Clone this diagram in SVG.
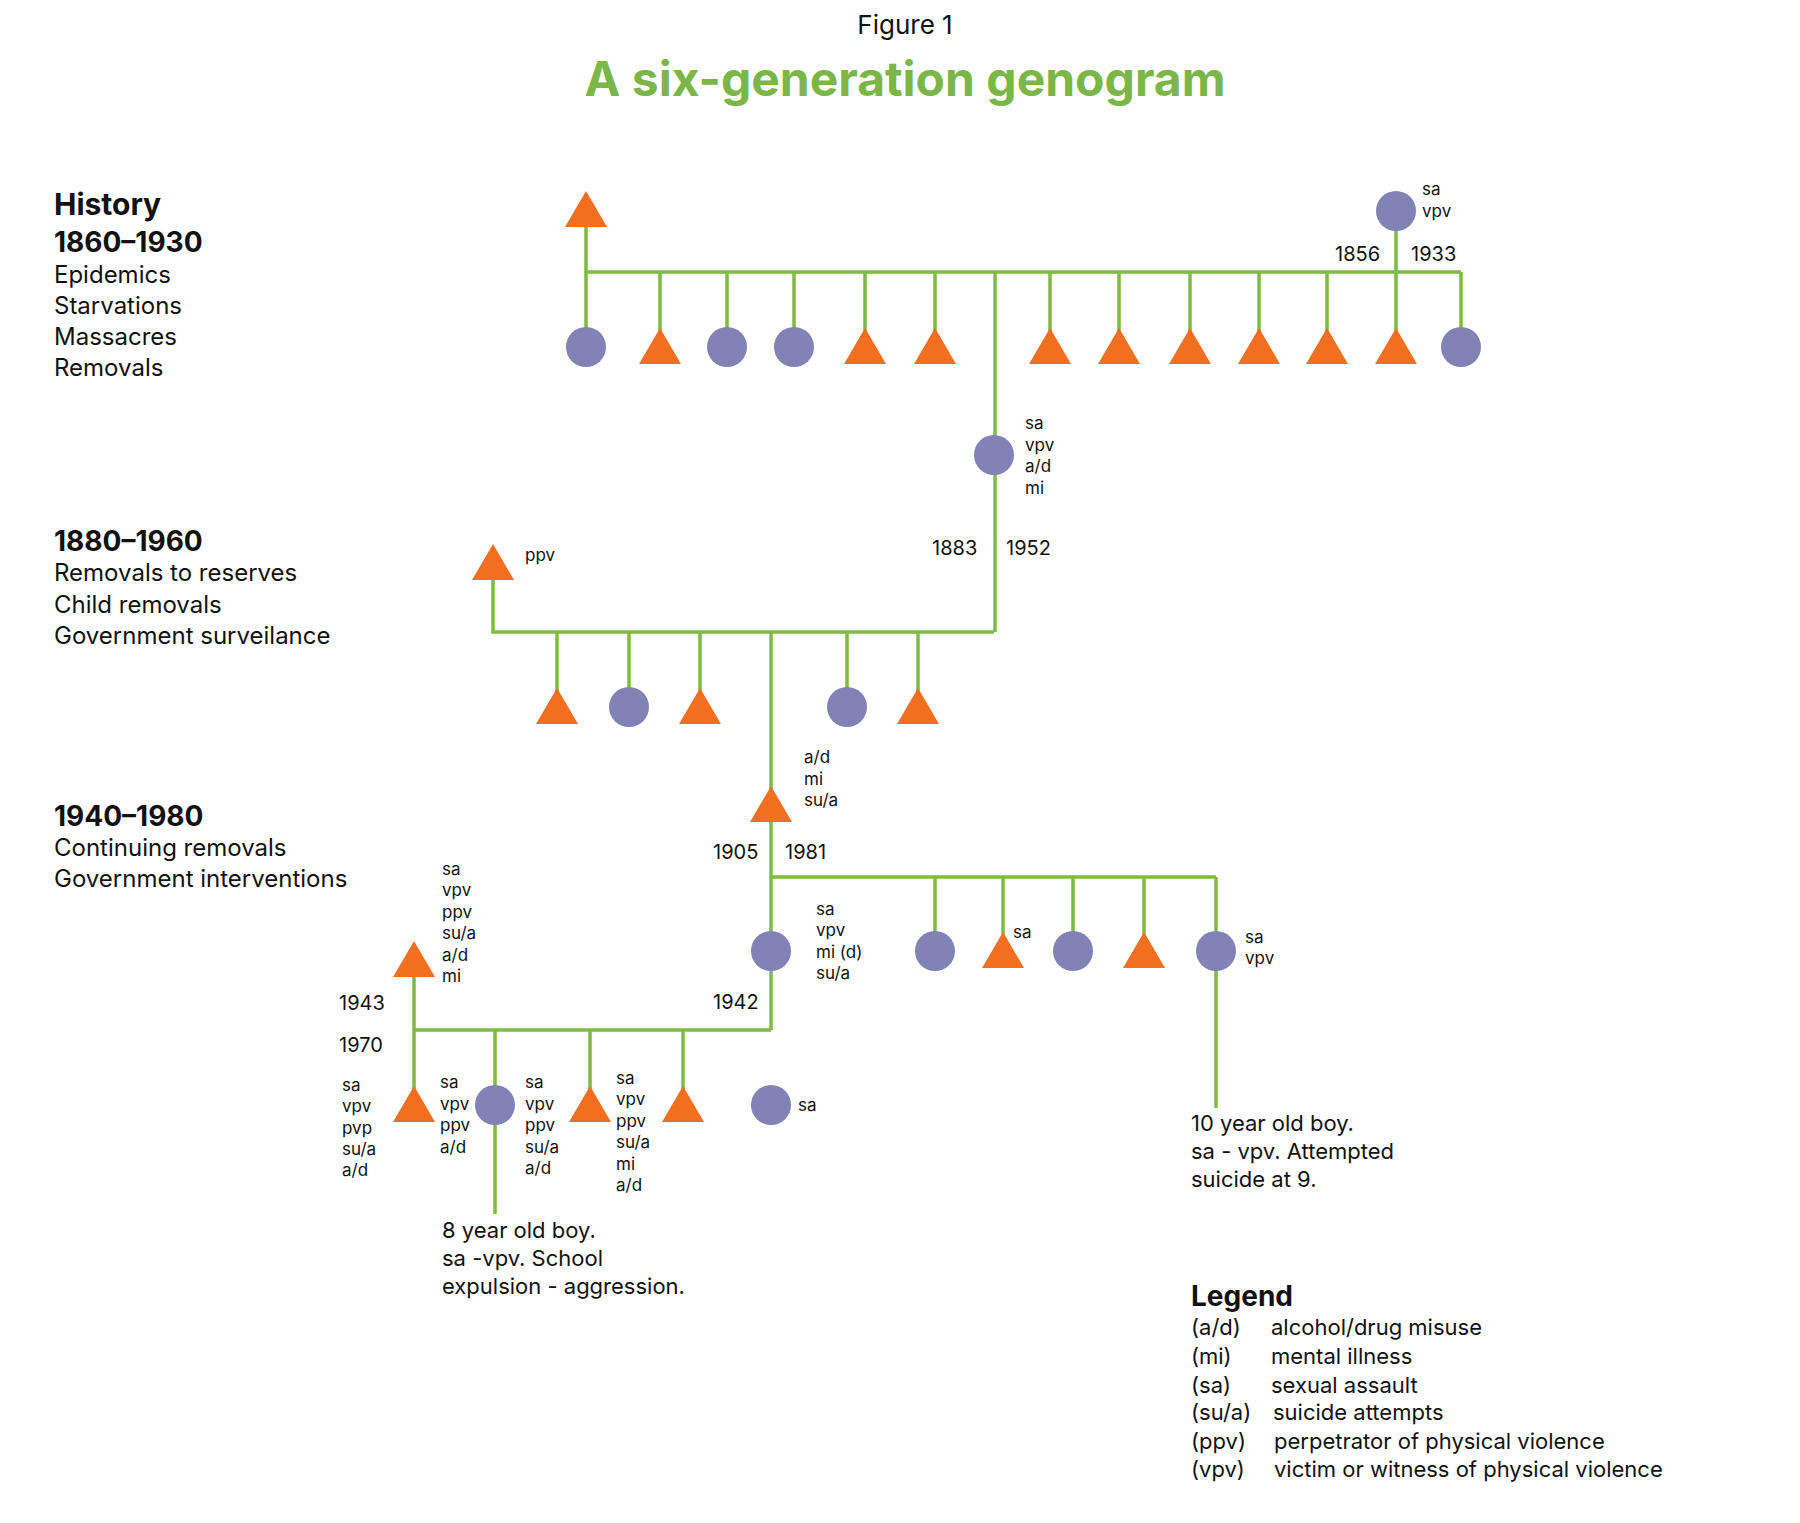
<svg xmlns="http://www.w3.org/2000/svg" width="1800" height="1523" viewBox="0 0 1800 1523">
<defs>
<style>
text{font-family:"Inter","Liberation Sans",sans-serif;fill:#111}
.t{font-size:17px}
.y{font-size:20px}
.h{font-size:24px}
.hb{font-size:30px;font-weight:bold}
.ln{stroke:#7dbb42;stroke-width:3.5;fill:none}
.c{fill:#8182b5}
.tr{fill:#f26f21}
</style>
<circle id="C" class="c" r="20"/>
<polygon id="T" class="tr" points="0,-19 21,17 -21,17"/>
</defs>
<rect width="1800" height="1523" fill="#fff"/>
<text x="905" y="34" text-anchor="middle" style="font-size:26px">Figure 1</text>
<text x="905" y="96" text-anchor="middle" style="font-size:48px;font-weight:bold;fill:#7ab648">A six-generation genogram</text>

<g id="history">
<text x="54" y="215" class="hb">History</text>
<text x="54" y="252" class="hb" style="font-size:28px">1860–1930</text>
<text x="54" y="283" class="h">Epidemics</text>
<text x="54" y="314" class="h">Starvations</text>
<text x="54" y="345" class="h">Massacres</text>
<text x="54" y="376" class="h">Removals</text>
<text x="54" y="551" class="hb" style="font-size:28px">1880–1960</text>
<text x="54" y="581" class="h">Removals to reserves</text>
<text x="54" y="613" class="h">Child removals</text>
<text x="54" y="644" class="h">Government surveilance</text>
<text x="54" y="826" class="hb" style="font-size:28px">1940–1980</text>
<text x="54" y="856" class="h">Continuing removals</text>
<text x="54" y="887" class="h">Government interventions</text>
</g>

<g id="connectors" class="ln">
<path d="M586,215V347M586,272H1461M660,272V347M727,272V347M794,272V347M865,272V347M935,272V347M995,272V632M1050,272V347M1119,272V347M1190,272V347M1259,272V347M1327,272V347M1396,211V347M1461,272V347"/>
<path d="M493,563V632H994M557,632V707M629,632V707M700,632V707M771,632V1030M847,632V707M918,632V707"/>
<path d="M771,877H1216M935,877V951M1003,877V951M1073,877V951M1144,877V951M1216,877V1108"/>
<path d="M414,960V1105M414,1030H771M495,1030V1214M590,1030V1105M683,1030V1105"/>
</g>

<g id="gen1">
<use href="#T" x="586" y="210"/>
<use href="#C" x="1396" y="211"/>
<use href="#C" x="586" y="347"/><use href="#T" x="660" y="347"/><use href="#C" x="727" y="347"/><use href="#C" x="794" y="347"/>
<use href="#T" x="865" y="347"/><use href="#T" x="935" y="347"/><use href="#T" x="1050" y="347"/><use href="#T" x="1119" y="347"/>
<use href="#T" x="1190" y="347"/><use href="#T" x="1259" y="347"/><use href="#T" x="1327" y="347"/><use href="#T" x="1396" y="347"/>
<use href="#C" x="1461" y="347"/>
<text x="1422" y="195" class="t">sa</text><text x="1422" y="217" class="t">vpv</text>
<text x="1335" y="261" class="y">1856</text><text x="1411" y="261" class="y">1933</text>
</g>

<g id="gen2">
<use href="#C" x="994" y="455"/>
<text x="1025" y="429" class="t">sa</text><text x="1025" y="451" class="t">vpv</text><text x="1025" y="472" class="t">a/d</text><text x="1025" y="494" class="t">mi</text>
<text x="932" y="555" class="y">1883</text><text x="1006" y="555" class="y">1952</text>
<use href="#T" x="493" y="563"/><text x="525" y="561" class="t">ppv</text>
<use href="#T" x="557" y="707"/><use href="#C" x="629" y="707"/><use href="#T" x="700" y="707"/><use href="#C" x="847" y="707"/><use href="#T" x="918" y="707"/>
</g>

<g id="gen3">
<use href="#T" x="771" y="805"/>
<text x="804" y="763" class="t">a/d</text><text x="804" y="785" class="t">mi</text><text x="804" y="806" class="t">su/a</text>
<text x="713" y="859" class="y">1905</text><text x="785" y="859" class="y">1981</text>
<use href="#C" x="771" y="951"/><use href="#C" x="935" y="951"/><use href="#T" x="1003" y="951"/><use href="#C" x="1073" y="951"/><use href="#T" x="1144" y="951"/><use href="#C" x="1216" y="951"/>
<text x="816" y="915" class="t">sa</text><text x="816" y="936" class="t">vpv</text><text x="816" y="958" class="t">mi (d)</text><text x="816" y="979" class="t">su/a</text>
<text x="1013" y="938" class="t">sa</text>
<text x="1245" y="943" class="t">sa</text><text x="1245" y="964" class="t">vpv</text>
<text x="1191" y="1131" class="h" style="font-size:22px">10 year old boy.</text>
<text x="1191" y="1159" class="h" style="font-size:22px">sa - vpv. Attempted</text>
<text x="1191" y="1187" class="h" style="font-size:22px">suicide at 9.</text>
</g>

<g id="gen4">
<use href="#T" x="414" y="960"/>
<text x="442" y="875" class="t">sa</text><text x="442" y="896" class="t">vpv</text><text x="442" y="918" class="t">ppv</text><text x="442" y="939" class="t">su/a</text><text x="442" y="961" class="t">a/d</text><text x="442" y="982" class="t">mi</text>
<text x="339" y="1010" class="y">1943</text><text x="339" y="1052" class="y">1970</text><text x="713" y="1009" class="y">1942</text>
<use href="#T" x="414" y="1105"/><use href="#C" x="495" y="1105"/><use href="#T" x="590" y="1105"/><use href="#T" x="683" y="1105"/><use href="#C" x="771" y="1105"/>
<text x="342" y="1091" class="t">sa</text><text x="342" y="1112" class="t">vpv</text><text x="342" y="1134" class="t">pvp</text><text x="342" y="1155" class="t">su/a</text><text x="342" y="1176" class="t">a/d</text>
<text x="440" y="1088" class="t">sa</text><text x="440" y="1110" class="t">vpv</text><text x="440" y="1131" class="t">ppv</text><text x="440" y="1153" class="t">a/d</text>
<text x="525" y="1088" class="t">sa</text><text x="525" y="1110" class="t">vpv</text><text x="525" y="1131" class="t">ppv</text><text x="525" y="1153" class="t">su/a</text><text x="525" y="1174" class="t">a/d</text>
<text x="616" y="1084" class="t">sa</text><text x="616" y="1105" class="t">vpv</text><text x="616" y="1127" class="t">ppv</text><text x="616" y="1148" class="t">su/a</text><text x="616" y="1170" class="t">mi</text><text x="616" y="1191" class="t">a/d</text>
<text x="798" y="1111" class="t">sa</text>
<text x="442" y="1238" class="h" style="font-size:22px">8 year old boy.</text>
<text x="442" y="1266" class="h" style="font-size:22px">sa -vpv. School</text>
<text x="442" y="1294" class="h" style="font-size:22px">expulsion - aggression.</text>
</g>

<g id="legend" style="font-size:22px">
<text x="1191" y="1306" class="hb" style="font-size:28px">Legend</text>
<text x="1191" y="1335">(a/d)</text><text x="1271" y="1335">alcohol/drug misuse</text>
<text x="1191" y="1364">(mi)</text><text x="1271" y="1364">mental illness</text>
<text x="1191" y="1393">(sa)</text><text x="1271" y="1393">sexual assault</text>
<text x="1191" y="1420">(su/a)</text><text x="1273" y="1420">suicide attempts</text>
<text x="1191" y="1449">(ppv)</text><text x="1274" y="1449">perpetrator of physical violence</text>
<text x="1191" y="1477">(vpv)</text><text x="1274" y="1477">victim or witness of physical violence</text>
</g>
</svg>
